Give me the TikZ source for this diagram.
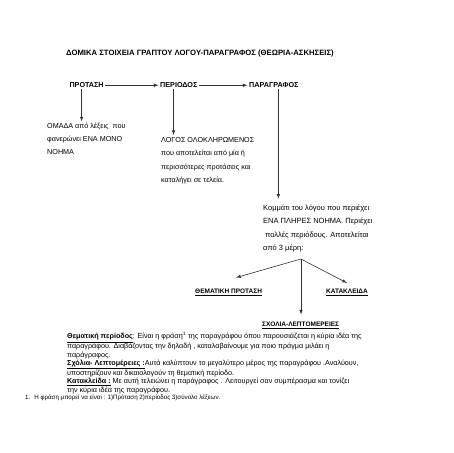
\documentclass[tikz,border=0pt]{standalone}
\usepackage{fontspec}
\setmainfont{Liberation Sans}
\usetikzlibrary{arrows}

\tikzset{
  kefalida/.style={font=\bfseries\fontsize{7.2}{8.6}\selectfont, inner sep=1.5pt, anchor=base west},
  perigrafi/.style={font=\fontsize{7.2}{13.3}\selectfont, align=left, inner sep=0pt, anchor=base west},
  meros/.style={font=\bfseries\fontsize{6.5}{7.5}\selectfont, inner sep=0pt, anchor=base west},
  velos/.style={->, >=latex, line width=0.6pt, draw=black!80},
}

\begin{document}
\begin{tikzpicture}[x=1pt,y=-1pt]
  \useasboundingbox (0,0) rectangle (453,453);

  % title
  \node[font=\bfseries\fontsize{7.7}{9}\selectfont, inner sep=0pt, anchor=base west] (titlos) at (66,55)
    {ΔΟΜΙΚΑ ΣΤΟΙΧΕΙΑ ΓΡΑΠΤΟΥ ΛΟΓΟΥ-ΠΑΡΑΓΡΑΦΟΣ (ΘΕΩΡΙΑ-ΑΣΚΗΣΕΙΣ)};

  % the three levels
  \node[kefalida] (protasi) at (67.8,87.7) {ΠΡΟΤΑΣΗ};
  \node[kefalida] (periodos) at (158.5,87.7) {ΠΕΡΙΟΔΟΣ};
  \node[kefalida] (paragrafos) at (247.5,87.7) {ΠΑΡΑΓΡΑΦΟΣ};

  \draw[velos] (protasi) -- (periodos);
  \draw[velos] (periodos) -- (paragrafos);

  % what each one is (base = last line)
  \node[perigrafi] (omada) at (47,154.6)
    {ΟΜΑΔΑ από λέξεις\ \ που\\ φανερώνει ΕΝΑ ΜΟΝΟ\\ ΝΟΗΜΑ};
  \node[perigrafi] (logos) at (161,182.4)
    {ΛΟΓΟΣ ΟΛΟΚΛΗΡΩΜΕΝΟΣ\\ που αποτελείται από μία ή\\ περισσότερες προτάσεις και\\ καταλήγει σε τελεία.};
  \node[perigrafi, font=\fontsize{7.5}{13.6}\selectfont] (kommati) at (263,250.8)
    {Κομμάτι του λόγου που περιέχει\\ ΕΝΑ ΠΛΗΡΕΣ ΝΟΗΜΑ. Περιέχει\\ \ πολλές περιόδους. Αποτελείται\\ από 3 μέρη:};

  \draw[velos] ([xshift=-5pt]protasi.south) -- ([xshift=-5pt,yshift=1pt]protasi.south |- omada.north);
  \draw[velos] ([xshift=-5.2pt]periodos.south) -- ([xshift=-5.2pt,yshift=2.3pt]periodos.south |- logos.north);
  \draw[velos] ([xshift=4.5pt]paragrafos.south) -- ([xshift=4.5pt,yshift=5.5pt]paragrafos.south |- kommati.north);

  % the three parts of a paragraph
  \coordinate (koryfi) at (301,259);
  \node[meros] (thematiki) at (195,293.3) {\underline{ΘΕΜΑΤΙΚΗ ΠΡΟΤΑΣΗ}};
  \node[meros] (kataklida) at (326,293.3) {\underline{ΚΑΤΑΚΛΕΙΔΑ}};
  \node[meros] (scholia) at (262,326.7) {\underline{ΣΧΟΛΙΑ-ΛΕΠΤΟΜΕΡΕΙΕΣ}};

  \draw[velos] (koryfi) -- ([xshift=7.5pt,yshift=11pt]thematiki.north);
  \draw[velos] (koryfi) -- ([yshift=5.7pt]kataklida.north);
  \draw[velos] (koryfi) -- ([yshift=7.4pt]scholia.north -| koryfi);

  % explanation (base = last line)
  \node[font=\fontsize{7.2}{8.35}\selectfont, align=left, inner sep=0pt, anchor=base west] (exigisi) at (67,392.1)
    {\textbf{\underline{Θεματική περίοδος}}: Είναι η φράση\textsuperscript{1} της παραγράφου όπου παρουσιάζεται η κύρια ιδέα της\\
     παραγράφου. Διαβάζοντας την δηλαδή , καταλαβαίνουμε για ποιο πράγμα μιλάει η\\
     παράγραφος.\\
     \textbf{\underline{Σχόλια- Λεπτομέρειες :}}Αυτά καλύπτουν το μεγαλύτερο μέρος της παραγράφου .Αναλύουν,\\
     υποστηρίζουν και δικαιολογούν τη θεματική περίοδο.\\
     \textbf{\underline{Κατακλείδα :}} Με αυτή τελειώνει η παράγραφος . Λειτουργεί σαν συμπέρασμα και τονίζει\\
     την κύρια ιδέα της παραγράφου.};

  % footnote
  \node[font=\fontsize{6.2}{7}\selectfont, inner sep=0pt, anchor=base west] (simeiosi) at (25,399)
    {1.\hspace{4pt}Η φράση μπορεί να είναι : 1)Πρόταση 2)περίοδος 3)σύνολο λέξεων.};
\end{tikzpicture}
\end{document}
